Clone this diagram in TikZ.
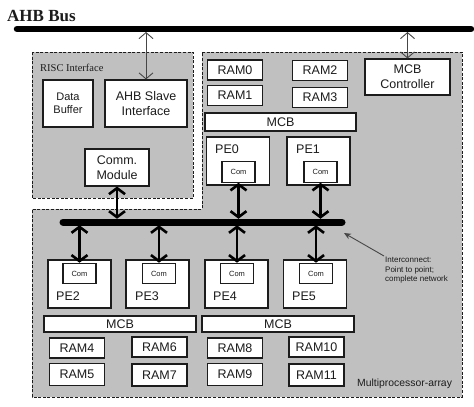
\documentclass[tikz,border=0pt]{standalone}
\usepackage{fontspec}
\setmainfont{Liberation Sans}
\newfontfamily\timesfont{Liberation Serif}
\usetikzlibrary{arrows.meta,positioning}
\definecolor{ink}{RGB}{28,28,28}
\definecolor{slate}{RGB}{192,192,192}
\definecolor{wire}{RGB}{70,70,70}

\begin{document}
\begin{tikzpicture}[x=1pt,y=-1pt,box/.style={draw=ink,line width=1.1pt,fill=white,inner sep=0pt,align=center,text=ink,font=\fontsize{12.5}{15}\selectfont},ram/.style={box,minimum width=55pt,minimum height=20pt},pe/.style={box,minimum width=63pt,minimum height=48pt},com/.style={box,minimum width=33pt,minimum height=20.5pt,font=\fontsize{7.5}{9}\selectfont},mcb/.style={box,minimum width=152pt,minimum height=16pt},tag/.style={anchor=base west,inner sep=0pt,text=ink,font=\fontsize{12.5}{15}\selectfont},panel/.style={draw=ink,fill=slate,line width=.9pt,dash pattern=on 3pt off 1.6pt},bus/.style={line width=6.5pt,line cap=round,draw=black},link/.style={{Straight Barb[length=6pt,width=16pt]}-{Straight Barb[length=6pt,width=16pt]},line width=2.6pt,draw=black,shorten >=3.2pt},tap/.style={{Straight Barb[length=6pt,width=14pt]}-{Straight Barb[length=6pt,width=14pt]},line width=.9pt,draw=wire,shorten >=3pt},pointer/.style={-{Stealth[length=7pt,width=6pt]},line width=.9pt,draw=wire}]
\useasboundingbox (0,0) rectangle (474,407);
\draw[panel] (202,52) -- (462,52) -- (462,397) -- (32,397) -- (32,209) -- (202,209) -- cycle;
\draw[panel] (32,52) rectangle (193,198);
\coordinate (ahbL) at (17,29);\coordinate (ahbR) at (471,29);
\coordinate (netL) at (63,222);\coordinate (netR) at (342,222);
\draw[bus] (ahbL)--(ahbR);\draw[bus,line width=7pt] (netL)--(netR);
\node[tag,font=\timesfont\bfseries\fontsize{17}{20}\selectfont] (title) at (7,21) {AHB Bus};
\node[tag,font=\timesfont\fontsize{10.5}{12}\selectfont] (risctag) at (40,71) {RISC Interface};
\node[box,minimum width=50pt,minimum height=47pt,font=\fontsize{11}{13}\selectfont] (buffer) at (68,103.5) {Data\\Buffer};
\node[box,minimum width=82pt,minimum height=47pt] (slave) at (146,103.5) {AHB Slave\\Interface};
\node[box,minimum width=64pt,minimum height=37pt] (comm) at (117,167.5) {Comm.\\Module};
\node[ram] (ram0) at (235,70) {RAM0};
\node[ram] (ram1) at (235,95.5) {RAM1};
\node[ram] (ram2) at (320,70.5) {RAM2};
\node[ram] (ram3) at (320,97.5) {RAM3};
\node[box,minimum width=85pt,minimum height=36pt] (mcbctl) at (407.5,77) {MCB\\Controller};
\node[mcb,minimum width=151pt,minimum height=18pt] (mcb0) at (280.5,122) {MCB};
\node[pe] (pe0) at (238,161) {};\node[com] (com0) at (238.5,172) {Com};\node[tag] (pe0tag) at (215,153) {PE0};
\node[pe] (pe1) at (318.5,161) {};\node[com] (com1) at (320.5,172) {Com};\node[tag] (pe1tag) at (296,153) {PE1};
\node[pe] (pe2) at (79.5,284) {};\node[com] (com2) at (79.5,273.5) {Com};\node[tag] (pe2tag) at (56,300) {PE2};
\node[pe] (pe3) at (157.5,284) {};\node[com] (com3) at (159,273.5) {Com};\node[tag] (pe3tag) at (135,300) {PE3};
\node[pe] (pe4) at (236.5,284) {};\node[com] (com4) at (237,273.5) {Com};\node[tag] (pe4tag) at (213,300) {PE4};
\node[pe] (pe5) at (315,284) {};\node[com] (com5) at (316,273.5) {Com};\node[tag] (pe5tag) at (292,300) {PE5};
\node[mcb] (mcb1) at (120,324) {MCB};
\node[mcb] (mcb2) at (278,324) {MCB};
\node[ram] (ram4) at (77,348) {RAM4};
\node[ram,minimum height=22pt] (ram5) at (77,374.5) {RAM5};
\node[ram] (ram6) at (159.5,347) {RAM6};
\node[ram,minimum height=22pt] (ram7) at (159.5,375) {RAM7};
\node[ram] (ram8) at (235,348) {RAM8};
\node[ram,minimum height=22pt] (ram9) at (235,374.5) {RAM9};
\node[ram] (ram10) at (316.5,347) {RAM10};
\node[ram,minimum height=22pt] (ram11) at (316.5,375) {RAM11};
\node[anchor=north west,align=left,inner sep=1pt,text=ink,font=\fontsize{8}{9.5}\selectfont] (note) at (384,256) {Interconnect:\\Point to point;\\complete network};
\node[tag,font=\fontsize{10.4}{12}\selectfont] (arraytag) at (357,386.5) {Multiprocessor-array};
\coordinate (hint) at (344,233);
\draw[tap] (slave.north)--(slave.north |- ahbL);\draw[tap] (mcbctl.north)--(mcbctl.north |- ahbL);
\draw[link] (comm.south)--(comm.south |- netL);\draw[link] (com0.south)--(com0.south |- netL);\draw[link] (com1.south)--(com1.south |- netL);
\draw[link] (com2.north)--(com2.north |- netL);\draw[link] (com3.north)--(com3.north |- netL);\draw[link] (com4.north)--(com4.north |- netL);\draw[link] (com5.north)--(com5.north |- netL);
\draw[pointer] (note.north west)--(hint);
\end{tikzpicture}
\end{document}
